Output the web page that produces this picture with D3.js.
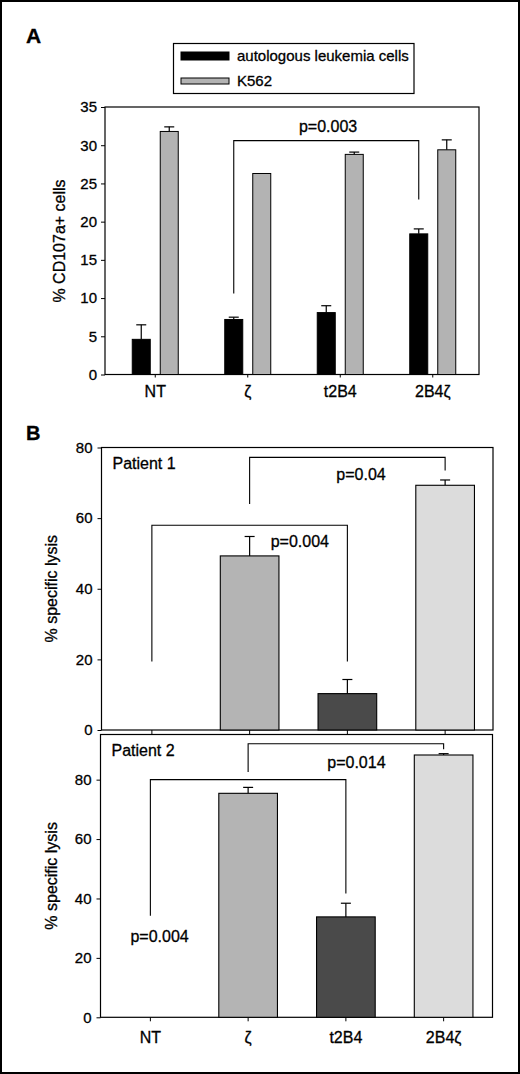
<!DOCTYPE html>
<html>
<head>
<meta charset="utf-8">
<script src="https://cdn.jsdelivr.net/npm/d3@7"></script>
<style>
  html, body { margin: 0; padding: 0; background: #fff; }
  text { font-family: "Liberation Sans", Arial, Helvetica, sans-serif; fill: #000; stroke: #000; stroke-width: 0.3px; }
</style>
</head>
<body>
<svg id="chart" width="520" height="1074"></svg>
<script>
// ---------- data ----------
const categories = ["NT", "ζ", "t2B4", "2B4ζ"];
const seriesA = ["autologous leukemia cells", "K562"];
const aAutologous = [4.6, 7.2, 8.1, 18.4];
const aAutologousErr = [1.9, 0.3, 0.9, 0.65];
const aK562 = [31.8, 26.3, 28.8, 29.4];
const aK562Err = [0.6, 0, 0.3, 1.3];
const aTicks = [0, 5, 10, 15, 20, 25, 30, 35];

const patient1Lysis = [0, 49.3, 10.3, 69.3];
const patient1Err = [0, 5.5, 4.0, 1.5];
const patient2Lysis = [0, 75.4, 33.8, 88.3];
const patient2Err = [0, 2.0, 4.6, 0.45];
const bTicks = [0, 20, 40, 60, 80];

// brackets: from/to category, bracket top, left & right drop ends, label, label position (fraction along, value)
const aBrackets = [
  { from: "ζ", to: "2B4ζ", top: 30.6, leftEnd: 10.6, rightEnd: 22.9, label: "p=0.003", lx: 0.51, ly: 31.7 }
];
const p1Brackets = [
  { from: "ζ", to: "2B4ζ", top: 77.2, leftEnd: 64, rightEnd: 73.5, label: "p=0.04", lx: 0.57, ly: 70.8 },
  { from: "NT", to: "t2B4", top: 58, leftEnd: 19.4, rightEnd: 19.4, label: "p=0.004", lx: 0.757, ly: 51.7 }
];
const p2Brackets = [
  { from: "ζ", to: "2B4ζ", top: 92.1, leftEnd: 82.6, rightEnd: 90.2, label: "p=0.014", lx: 0.554, ly: 84.0 },
  { from: "NT", to: "t2B4", top: 80, leftEnd: 34.2, rightEnd: 41.7, label: "p=0.004", lx: 0.047, ly: 25.5 }
];

// ---------- styles ----------
const colA = ["#000000", "#b3b3b3"];
const colB = ["#ffffff", "#b4b4b4", "#4a4a4a", "#dcdcdc"];

const svg = d3.select("#chart");
svg.append("rect").attr("x", 0).attr("y", 0).attr("width", 520).attr("height", 1074).attr("fill", "#fff");
svg.append("rect").attr("x", 1).attr("y", 1).attr("width", 518).attr("height", 1072)
  .attr("fill", "none").attr("stroke", "#000").attr("stroke-width", 2);

// ---------- Panel A ----------
svg.append("text").attr("x", 26).attr("y", 43).attr("font-size", 21).attr("font-weight", "bold").text("A");

const A = { left: 105, right: 479, top: 107, bottom: 374.5 };
const xA = d3.scaleBand().domain(categories).range([109, 479]).paddingInner(0).paddingOuter(0);
const xAin = d3.scaleBand().domain(seriesA).range([-23, 23]).paddingInner(0.357);
const yA = d3.scaleLinear().domain([0, 35]).range([A.bottom, A.top]);

const gA = svg.append("g");
gA.append("rect").attr("x", A.left).attr("y", A.top).attr("width", A.right - A.left).attr("height", A.bottom - A.top)
  .attr("fill", "none").attr("stroke", "#000").attr("stroke-width", 1.2);

const yAxA = gA.append("g").attr("transform", `translate(${A.left},0)`)
  .call(d3.axisLeft(yA).tickValues(aTicks).tickSize(4).tickPadding(4));
yAxA.select(".domain").remove();
yAxA.selectAll("text").attr("font-size", 15).style("font-family", "Liberation Sans, Arial, sans-serif");

const xAxA = gA.append("g").attr("transform", `translate(0,${A.bottom})`)
  .call(d3.axisBottom(xA).tickSize(3).tickPadding(8));
xAxA.select(".domain").remove();
xAxA.selectAll("text").attr("font-size", 16).attr("dy", "0.71em").style("font-family", "Liberation Sans, Arial, sans-serif");

gA.append("text").attr("transform", `translate(65,241) rotate(-90)`).attr("text-anchor", "middle")
  .attr("font-size", 16).text("% CD107a+ cells");

const aSeriesVals = [aAutologous, aK562];
const aSeriesErr = [aAutologousErr, aK562Err];
seriesA.forEach((s, si) => {
  const g = gA.append("g");
  categories.forEach((c, ci) => {
    const v = aSeriesVals[si][ci], e = aSeriesErr[si][ci];
    const cx = xA(c) + xA.bandwidth() / 2 + xAin(s) + xAin.bandwidth() / 2;
    if (e > 0) {
      g.append("line").attr("x1", cx).attr("x2", cx).attr("y1", yA(v)).attr("y2", yA(v + e))
        .attr("stroke", "#000").attr("stroke-width", 1.2);
      g.append("line").attr("x1", cx - 5).attr("x2", cx + 5).attr("y1", yA(v + e)).attr("y2", yA(v + e))
        .attr("stroke", "#000").attr("stroke-width", 1.2);
    }
    g.append("rect").attr("x", xA(c) + xA.bandwidth() / 2 + xAin(s)).attr("y", yA(v))
      .attr("width", xAin.bandwidth()).attr("height", yA(0) - yA(v))
      .attr("fill", colA[si]).attr("stroke", "#000").attr("stroke-width", 1);
  });
});

function drawBrackets(g, brackets, xPos, y, fontSize) {
  brackets.forEach(b => {
    const x1 = xPos(b.from), x2 = xPos(b.to);
    g.append("path")
      .attr("d", `M${x1},${y(b.leftEnd)}V${y(b.top)}H${x2}V${y(b.rightEnd)}`)
      .attr("fill", "none").attr("stroke", "#000").attr("stroke-width", 1.1);
    g.append("text").attr("x", x1 + (x2 - x1) * b.lx).attr("y", y(b.ly))
      .attr("text-anchor", "middle").attr("font-size", fontSize).text(b.label);
  });
}
drawBrackets(gA, aBrackets, c => xA(c) + xA.bandwidth() / 2 + xAin(seriesA[0]) + xAin.bandwidth() / 2, yA, 16);

// legend
const leg = svg.append("g");
leg.append("rect").attr("x", 173.5).attr("y", 43.5).attr("width", 240.5).attr("height", 50)
  .attr("fill", "#fff").attr("stroke", "#000").attr("stroke-width", 1.2);
seriesA.forEach((s, i) => {
  const yy = i === 0 ? 52 : 78;
  const hh = i === 0 ? 8 : 6;
  leg.append("rect").attr("x", 181).attr("y", yy).attr("width", 48).attr("height", hh)
    .attr("fill", colA[i]).attr("stroke", "#000").attr("stroke-width", 1);
  leg.append("text").attr("x", 237).attr("y", i === 0 ? 61 : 86).attr("font-size", 15).text(s);
});

// ---------- Panel B ----------
svg.append("text").attr("x", 26).attr("y", 440).attr("font-size", 20).attr("font-weight", "bold").text("B");

function drawPatient(cfg) {
  const { left, right, top, bottom, ymax, vals, errs, brackets, name, showX, xr } = cfg;
  const g = svg.append("g");
  const x = d3.scaleBand().domain(categories).range(xr).paddingInner(0.4).paddingOuter(0.2);
  const y = d3.scaleLinear().domain([0, ymax]).range([bottom, top]);
  g.append("rect").attr("x", left).attr("y", top).attr("width", right - left).attr("height", bottom - top)
    .attr("fill", "none").attr("stroke", "#000").attr("stroke-width", 1.2);
  const ya = g.append("g").attr("transform", `translate(${left},0)`)
    .call(d3.axisLeft(y).tickValues(bTicks).tickSize(4).tickPadding(5));
  ya.select(".domain").remove();
  ya.selectAll("text").attr("font-size", 15).style("font-family", "Liberation Sans, Arial, sans-serif");
  const xa = g.append("g").attr("transform", `translate(0,${bottom})`)
    .call(d3.axisBottom(x).tickSize(4).tickPadding(10));
  xa.select(".domain").remove();
  xa.selectAll("text").attr("font-size", 16).attr("dy", "0.71em").style("font-family", "Liberation Sans, Arial, sans-serif");
  if (!showX) xa.selectAll("text").remove();

  g.append("text").attr("transform", `translate(57,${(top + bottom) / 2}) rotate(-90)`).attr("text-anchor", "middle")
    .attr("font-size", 16).text("% specific lysis");
  g.append("text").attr("x", left + 11).attr("y", top + 21.5).attr("font-size", 16).text(name);

  categories.forEach((c, ci) => {
    const v = vals[ci], e = errs[ci];
    if (v <= 0) return;
    const cx = x(c) + x.bandwidth() / 2;
    if (e > 0) {
      g.append("line").attr("x1", cx).attr("x2", cx).attr("y1", y(v)).attr("y2", y(v + e))
        .attr("stroke", "#000").attr("stroke-width", 1.2);
      g.append("line").attr("x1", cx - 5).attr("x2", cx + 5).attr("y1", y(v + e)).attr("y2", y(v + e))
        .attr("stroke", "#000").attr("stroke-width", 1.2);
    }
    g.append("rect").attr("x", x(c)).attr("y", y(v)).attr("width", x.bandwidth()).attr("height", y(0) - y(v))
      .attr("fill", colB[ci]).attr("stroke", "#000").attr("stroke-width", 1.1);
  });
  drawBrackets(g, brackets, c => x(c) + x.bandwidth() / 2, y, 16);
}

drawPatient({ left: 101.5, right: 493, top: 447.5, bottom: 730, ymax: 80, vals: patient1Lysis, errs: patient1Err,
  brackets: p1Brackets, name: "Patient 1", showX: false, xr: [103, 494] });
drawPatient({ left: 100.5, right: 492.5, top: 734.5, bottom: 1017.3, ymax: 95.2, vals: patient2Lysis, errs: patient2Err,
  brackets: p2Brackets, name: "Patient 2", showX: true, xr: [101.5, 492.5] });
</script>
</body>
</html>
